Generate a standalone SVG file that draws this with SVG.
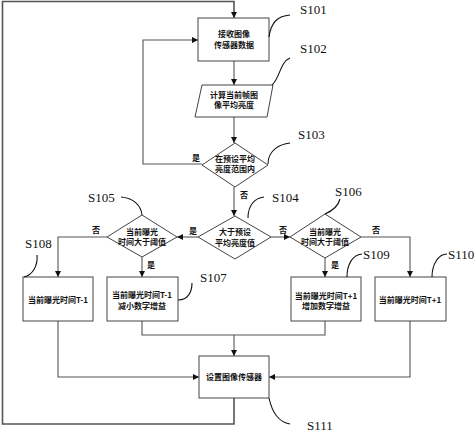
<svg xmlns="http://www.w3.org/2000/svg" width="474" height="433" viewBox="0 0 474 433">
<style>
.b{fill:#fff;stroke:#444;stroke-width:1}
.c{fill:none;stroke:#555;stroke-width:1.1}
.l{fill:none;stroke:#111;stroke-width:1.1}
.t{font-family:"Noto Sans CJK SC","Noto Sans CJK JP",sans-serif;font-size:8px;font-weight:bold;text-anchor:middle;fill:#111}
.s{font-family:"Liberation Serif",serif;font-size:13px;fill:#111}
</style>
<defs>
<marker id="a" markerWidth="6" markerHeight="6" refX="6" refY="3" orient="auto" markerUnits="userSpaceOnUse"><path d="M0,0L6,3L0,6z" fill="#111"/></marker>
</defs>
<rect width="474" height="433" fill="#fff"/>
<g id="connectors">
<path class="c" d="M234,398V424H2.5V1.5H234V18" marker-end="url(#a)" style="stroke-width:1.6"/>
<path class="c" d="M234,61V85" marker-end="url(#a)"/>
<path class="c" d="M234,117V143" marker-end="url(#a)"/>
<path class="c" d="M234,187V216" marker-end="url(#a)"/>
<path class="c" d="M202,164H143V40H198" marker-end="url(#a)"/>
<path class="c" d="M198,237H177" marker-end="url(#a)"/>
<path class="c" d="M271,237H290" marker-end="url(#a)"/>
<path class="c" d="M107,237H58V277" marker-end="url(#a)"/>
<path class="c" d="M142,257V277" marker-end="url(#a)"/>
<path class="c" d="M325,258V277" marker-end="url(#a)"/>
<path class="c" d="M361,237H410V277" marker-end="url(#a)"/>
<path class="c" d="M142,321V335H325V321"/>
<path class="c" d="M234,335V356" marker-end="url(#a)"/>
<path class="c" d="M58,321V377H199" marker-end="url(#a)"/>
<path class="c" d="M410,321V377H269" marker-end="url(#a)"/>
<text class="t" x="196" y="161">是</text>
<text class="t" x="244" y="198">否</text>
<text class="t" x="193" y="234">是</text>
<text class="t" x="283" y="233">否</text>
<text class="t" x="96" y="233">否</text>
<text class="t" x="151" y="268">是</text>
<text class="t" x="376" y="233">否</text>
<text class="t" x="335" y="268">是</text>
</g>
<g id="S101">
<rect class="b" x="198" y="18" width="71" height="43"/>
<text class="t" x="234" y="37">接收图像</text>
<text class="t" x="234" y="48">传感器数据</text>
<path class="l" d="M269,37C271,22 278,16 290,15"/>
<text class="s" x="300" y="14">S101</text>
</g>
<g id="S102">
<path class="b" d="M202,85H273L267,117H195Z"/>
<text class="t" x="234" y="98">计算当前帧图</text>
<text class="t" x="234" y="108">像平均亮度</text>
<path class="l" d="M272,85C280,78 280,62 290,58"/>
<text class="s" x="300" y="53">S102</text>
</g>
<g id="S103">
<path class="b" d="M235,143L268,165L235,187L202,165Z"/>
<text class="t" x="235" y="162">在预设平均</text>
<text class="t" x="235" y="172">亮度范围内</text>
<path class="l" d="M268,164C268,150 280,144 290,143"/>
<text class="s" x="298" y="139">S103</text>
</g>
<g id="S104">
<path class="b" d="M235,216L271,237L235,259L198,237Z"/>
<text class="t" x="235" y="235">大于预设</text>
<text class="t" x="235" y="246">平均亮度值</text>
<path class="l" d="M248,218C248,205 255,198 264,197"/>
<text class="s" x="272" y="202">S104</text>
</g>
<g id="S105">
<path class="b" d="M142,215L177,237L142,257L107,237Z"/>
<text class="t" x="142" y="235">当前曝光</text>
<text class="t" x="142" y="245">时间大于阈值</text>
<path class="l" d="M121,197C133,198 141,205 142,215"/>
<text class="s" x="88" y="202">S105</text>
</g>
<g id="S106">
<path class="b" d="M325,214L361,237L325,258L290,237Z"/>
<text class="t" x="325" y="235">当前曝光</text>
<text class="t" x="325" y="245">时间大于阈值</text>
<path class="l" d="M340,199C338,207 332,211 325,214"/>
<text class="s" x="335" y="196">S106</text>
</g>
<g id="S107">
<rect class="b" x="107" y="277" width="71" height="44"/>
<text class="t" x="142" y="298">当前曝光时间T-1</text>
<text class="t" x="142" y="309">减小数字增益</text>
<path class="l" d="M178,300C188,300 192,292 192,283"/>
<text class="s" x="200" y="282">S107</text>
</g>
<g id="S108">
<rect class="b" x="23" y="277" width="70" height="44"/>
<text class="t" x="58" y="303">当前曝光时间T-1</text>
<path class="l" d="M37,255C38,265 33,275 24,277"/>
<text class="s" x="25" y="248">S108</text>
</g>
<g id="S109">
<rect class="b" x="291" y="277" width="70" height="44"/>
<text class="t" x="326" y="299">当前曝光时间T+1</text>
<text class="t" x="326" y="309">增加数字增益</text>
<path class="l" d="M362,254C352,255 347,265 347,277"/>
<text class="s" x="363" y="259">S109</text>
</g>
<g id="S110">
<rect class="b" x="375" y="277" width="71" height="44"/>
<text class="t" x="410" y="303">当前曝光时间T+1</text>
<path class="l" d="M447,254C438,254 432,265 432,277"/>
<text class="s" x="448" y="259">S110</text>
</g>
<g id="S111">
<rect class="b" x="199" y="356" width="70" height="42"/>
<text class="t" x="234" y="380">设置图像传感器</text>
<path class="l" d="M269,398C272,412 278,422 290,424"/>
<text class="s" x="307" y="430">S111</text>
</g>
</svg>
